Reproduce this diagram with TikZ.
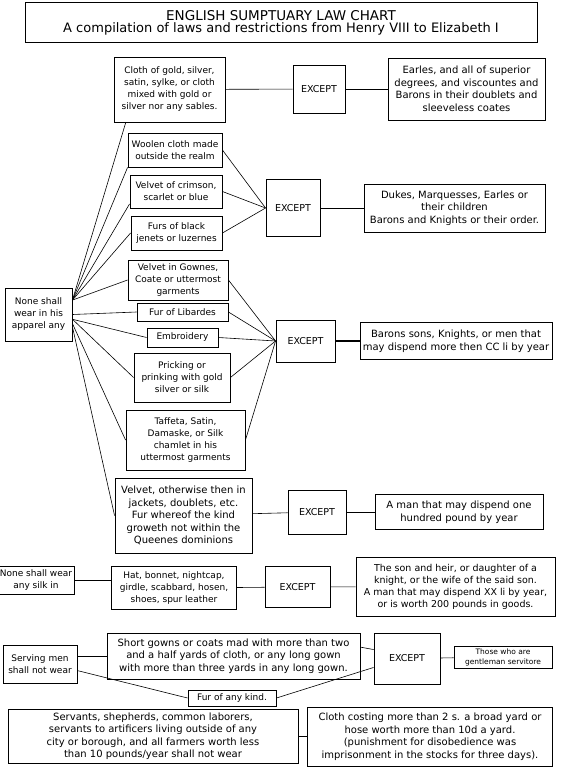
\documentclass[tikz,border=0pt]{standalone}
\usepackage{fontspec}
\setmainfont{DejaVu Sans}
\usetikzlibrary{shapes}
\tikzstyle{law}=[rectangle,draw=black,line width=0.9pt,align=center,
  inner sep=2pt,font=\fontsize{9}{12}\selectfont]
\tikzstyle{lawbig}=[law,font=\fontsize{10}{12.5}\selectfont]
\tikzstyle{exc}=[law,font=\fontsize{9.5}{12}\selectfont]
\tikzstyle{link}=[line width=0.6pt]

\begin{document}
\begin{tikzpicture}[x=1pt,y=-1pt]
    \useasboundingbox (0,0) rectangle (562,770);
    \node [law,line width=1pt,minimum width=512,minimum height=40] (title) at (281,23)
      {{\fontsize{13.5}{15}\selectfont ENGLISH SUMPTUARY LAW CHART}\\
       {\fontsize{13}{15}\selectfont A compilation of laws and restrictions from Henry VIII to Elizabeth I}};
    % first group
    \node [law,minimum width=111,minimum height=65] (cloth) at (169.5,89.5)
      {Cloth of gold, silver,\\satin, sylke, or cloth\\mixed with gold or\\silver nor any sables.};
    \node [exc,minimum width=52,minimum height=48] (exc1) at (319,89) {EXCEPT};
    \node [lawbig,minimum width=157,minimum height=62] (earles) at (466.5,89)
      {Earles, and all of superior\\degrees, and viscountes and\\Barons in their doublets and\\sleeveless coates};
    \node [law,minimum width=94,minimum height=34] (woolen) at (175,150)
      {Woolen cloth made\\outside the realm};
    \node [law,minimum width=92,minimum height=33] (crimson) at (176,191.5)
      {Velvet of crimson,\\scarlet or blue};
    \node [law,minimum width=91,minimum height=34] (furs) at (176.5,233)
      {Furs of black\\jenets or luzernes};
    \node [exc,minimum width=54,minimum height=57] (exc2) at (293,208) {EXCEPT};
    \node [lawbig,minimum width=181,minimum height=48] (dukes) at (454.5,208)
      {Dukes, Marquesses, Earles or\\their children\\Barons and Knights or their order.};
    \node [law,minimum width=100,minimum height=40] (gownes) at (178,280)
      {Velvet in Gownes,\\Coate or uttermost\\garments};
    \node [law,minimum width=91,minimum height=18] (libardes) at (182.5,312) {Fur of Libardes};
    \node [law,minimum width=71,minimum height=19] (embroid) at (182.5,337.5) {Embroidery};
    \node [law,minimum width=96,minimum height=49] (pricking) at (182,377.5)
      {Pricking or\\prinking with gold\\silver or silk};
    \node [law,minimum width=119,minimum height=60] (taffeta) at (185.5,440)
      {Taffeta, Satin,\\Damaske, or Silk\\chamlet in his\\uttermost garments};
    \node [exc,minimum width=59,minimum height=42] (exc3) at (305.5,341) {EXCEPT};
    \node [lawbig,minimum width=192,minimum height=37] (barons) at (456,341)
      {Barons sons, Knights, or men that\\may dispend more then CC li by year};
    \node [law,minimum width=67,minimum height=53] (apparel) at (38.5,314.5)
      {None shall\\wear in his\\apparel any};
    \node [lawbig,minimum width=137,minimum height=75] (velvet) at (183.5,515.5)
      {Velvet, otherwise then in\\jackets, doublets, etc.\\Fur whereof the kind\\groweth not within the\\Queenes dominions};
    \node [exc,minimum width=58,minimum height=44] (exc4) at (317,512) {EXCEPT};
    \node [lawbig,minimum width=168,minimum height=35] (hundred) at (459,512)
      {A man that may dispend one\\hundred pound by year};
    % silk
    \node [law,minimum width=70,minimum height=28] (silk) at (36,580)
      {None shall wear\\any silk in};
    \node [law,minimum width=125,minimum height=43] (hat) at (174,588)
      {Hat, bonnet, nightcap,\\girdle, scabbard, hosen,\\shoes, spur leather};
    \node [exc,minimum width=65,minimum height=41] (exc5) at (297.5,587) {EXCEPT};
    \node [law,font=\fontsize{9.5}{12}\selectfont,minimum width=199,minimum height=59] (sonheir) at (455.5,586.5)
      {The son and heir, or daughter of a\\knight, or the wife of the said son.\\A man that may dispend XX li by year,\\or is worth 200 pounds in goods.};
    % serving men
    \node [law,minimum width=74,minimum height=38] (serving) at (40,664)
      {Serving men\\shall not wear};
    \node [lawbig,minimum width=253,minimum height=46] (gowns) at (233.5,656)
      {Short gowns or coats mad with more than two\\and a half yards of cloth, or any long gown\\with more than three yards in any long gown.};
    \node [exc,minimum width=66,minimum height=51] (exc6) at (407,658.5) {EXCEPT};
    \node [law,minimum width=98,minimum height=22,font=\fontsize{7.5}{10}\selectfont] (servitore) at (503,657)
      {Those who are\\gentleman servitore};
    \node [law,minimum width=88,minimum height=16] (anyfur) at (232,698) {Fur of any kind.};
    % laborers
    \node [lawbig,minimum width=290,minimum height=54] (servants) at (153,736)
      {Servants, shepherds, common laborers,\\servants to artificers living outside of any\\city or borough, and all farmers worth less\\than 10 pounds/year shall not wear};
    \node [lawbig,minimum width=245,minimum height=59] (costing) at (430,736.5)
      {Cloth costing more than 2 s. a broad yard or\\hose worth more than 10d a yard.\\(punishment for disobedience was\\imprisonment in the stocks for three days).};
    % connectors
    \draw [link] (apparel.23) to (cloth.217);
    \draw [link] (apparel.23) to (woolen.south west);
    \draw [link] (apparel.23) to (crimson.195);
    \draw [link] (apparel.23) to (furs.west);
    \draw [link] (apparel.23) to (gownes.west);
    \draw [link] (apparel.east) to (libardes.west);
    \draw [link] (apparel.-8) to (embroid.west);
    \draw [link] (apparel.-8) to (pricking.west);
    \draw [link] (apparel.-15) to (taffeta.west);
    \draw [link] (apparel.-20) to (velvet.west);
    \draw [link] (cloth) to (exc1);
    \draw [link] (exc1) to (earles);
    \draw [link] (woolen.east) to (exc2.west);
    \draw [link] (crimson.east) to (exc2.west);
    \draw [link] (furs.east) to (exc2.west);
    \draw [link] (exc2) to (dukes);
    \draw [link] (gownes.east) to (exc3.west);
    \draw [link] (libardes.east) to (exc3.west);
    \draw [link] (embroid.east) to (exc3.west);
    \draw [link] (pricking.east) to (exc3.west);
    \draw [link] (taffeta.east) to (exc3.west);
    \draw [link,line width=1.2pt] (exc3) to (barons);
    \draw [link] (velvet) to (exc4);
    \draw [link] (exc4) to (hundred);
    \draw [link] (silk) to (silk -| hat.west);
    \draw [link] (hat) to (exc5);
    \draw [link] (exc5) to (sonheir);
    \draw [link] (gowns.west -| serving.east) to (gowns.west);
    \draw [link] (serving.-10) to (anyfur.west);
    \draw [link] (anyfur.east) to (exc6.-165);
    \draw [link] (gowns.4) to (exc6.165);
    \draw [link] (exc6) to (servitore);
    \draw [link] (servants) to (servants -| costing.west);
\end{tikzpicture}
\end{document}
